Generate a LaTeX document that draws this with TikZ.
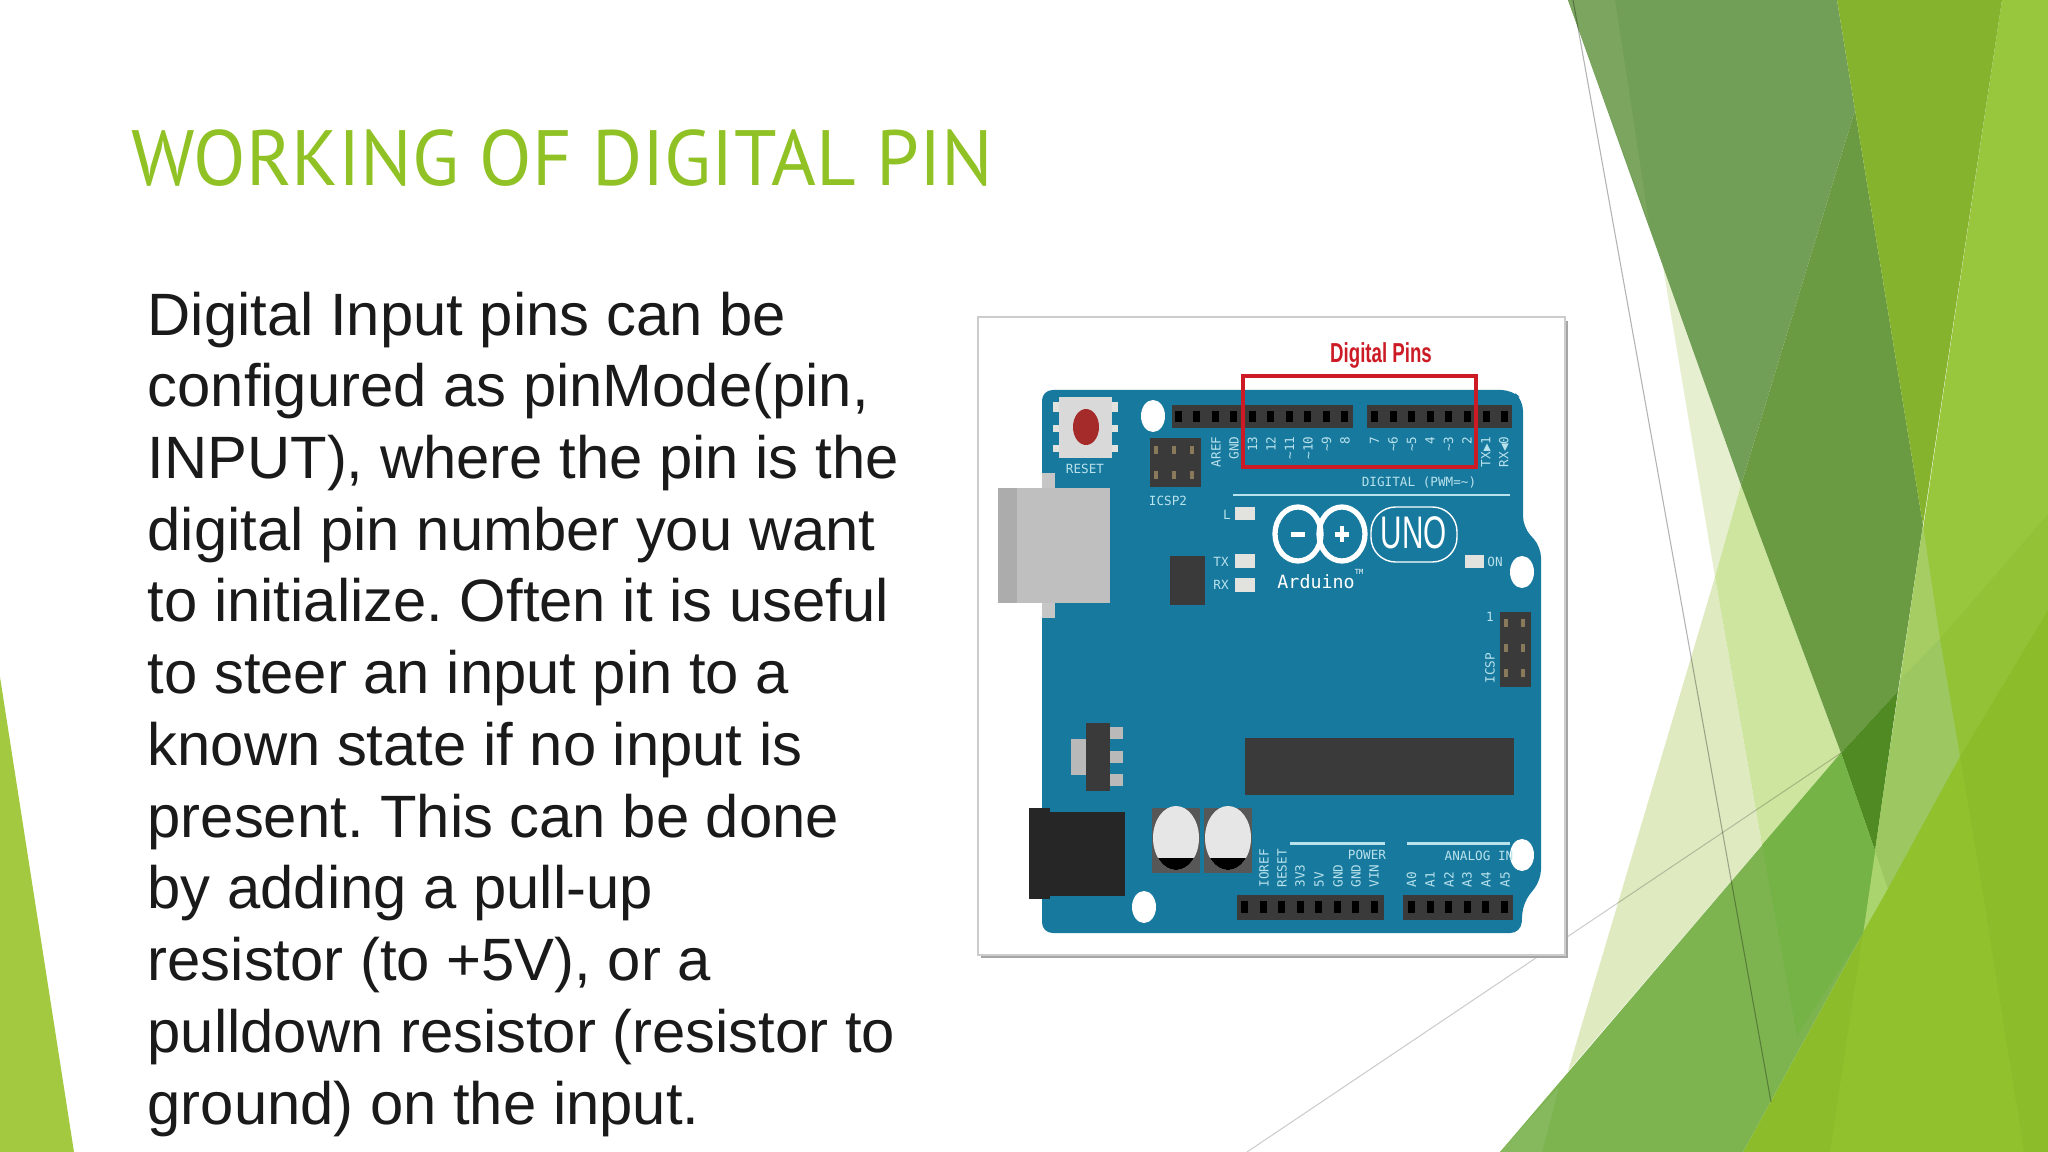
\documentclass[tikz,border=0pt]{standalone}
\usepackage{fontspec}
\setmainfont{Liberation Sans}
\setmonofont{DejaVu Sans Mono}
\newfontfamily\titlefont{PT Sans}
\definecolor{facetgreen}{HTML}{90C226}
\definecolor{facetleft}{HTML}{A2C93F}
\definecolor{paleone}{HTML}{E6EFD0}
\definecolor{paletwo}{HTML}{DFEAC1}
\definecolor{palethree}{HTML}{CEE5A0}
\definecolor{olivetop}{HTML}{729F57}
\definecolor{olivesliver}{HTML}{7CA660}
\definecolor{olivemid}{HTML}{6A9A42}
\definecolor{darkwedge}{HTML}{4F8A22}
\definecolor{midtop}{HTML}{85B32E}
\definecolor{brightright}{HTML}{98C63D}
\definecolor{brightlow}{HTML}{93C237}
\definecolor{patchone}{HTML}{A5CD63}
\definecolor{patchtwo}{HTML}{9CC761}
\definecolor{patchthree}{HTML}{AAD46E}
\definecolor{basegreen}{HTML}{8DBC2A}
\definecolor{basebright}{HTML}{91C22E}
\definecolor{lowgreen}{HTML}{7DB450}
\definecolor{lowright}{HTML}{75B347}
\definecolor{lowsliver}{HTML}{86B95E}
\definecolor{inkblack}{HTML}{1A1A1A}
\definecolor{boardblue}{HTML}{17799E}
\definecolor{silkblue}{HTML}{B8E2EC}
\definecolor{chipgray}{HTML}{3A3A3A}
\definecolor{jackblack}{HTML}{262626}
\definecolor{padbrown}{HTML}{8A7A5C}
\definecolor{ledwhite}{HTML}{E2E2DE}
\definecolor{capwhite}{HTML}{E6E6E6}
\definecolor{buttonred}{HTML}{A52A2A}
\definecolor{pinred}{HTML}{CC1B24}
\tikzset{
  hairline/.style={draw=black,line width=0.3pt},
  silk/.style={text=silkblue,inner sep=0pt,font=\fontsize{3.6}{4}\ttfamily},
  silkup/.style={silk,rotate=90},
  chip/.style={fill=chipgray},
  led/.style={fill=ledwhite},
  hole/.style={fill=white},
  pin/.style={fill=black}
}
\begin{document}
\begin{tikzpicture}[x=0.01cm,y=-0.01cm]
  \useasboundingbox (0,0) rectangle (2048,1152);
  \fill[white] (0,0) rectangle (2048,1152);

  \fill[facetleft] (0,677) -- (74,1152) -- (0,1152) -- cycle;

  \fill[brightright] (2002,0) -- (2048,0) -- (2048,1152) -- (1830,1152) -- cycle;
  \fill[paleone] (1662,261) -- (1741,485) -- (1715,577) -- cycle;
  \fill[paletwo] (1568,1071) -- (1715,577) -- (1762,845) -- cycle;
  \fill[palethree] (1715,577) -- (1741,485) -- (1841,753) -- (1762,845) -- cycle;
  \fill[olivetop] (1568,0) -- (1837,0) -- (1855,110) -- (1741,485) -- cycle;
  \fill[olivesliver] (1568,0) -- (1615,0) -- (1649,223) -- cycle;
  \fill[olivemid] (1855,110) -- (1923,525) -- (1898,691) -- (1841,753) -- (1741,485) -- cycle;
  \fill[darkwedge] (1841,753) -- (1898,691) -- (1875,851) -- cycle;
  \fill[midtop] (1837,0) -- (2002,0) -- (1923,525) -- cycle;
  \fill[brightlow] (2048,514) -- (1940,639) -- (1960,757) -- (2048,610) -- cycle;
  \fill[patchone] (1923,525) -- (1940,639) -- (1900,680) -- cycle;
  \fill[patchtwo] (1900,680) -- (1940,639) -- (1960,757) -- (1888,889) -- (1875,851) -- cycle;
  \fill[patchthree] (1875,851) -- (1888,889) -- (1863,933) -- cycle;
  \fill[basegreen] (1743,1152) -- (1863,933) -- (1888,889) -- (1960,757) -- (2048,610) -- (2048,1152) -- cycle;
  \fill[basebright] (1830,1152) -- (1863,933) -- (1888,889) -- (1960,757) -- (1975,845) -- (2024,1152) -- cycle;
  \fill[lowgreen] (1500,1152) -- (1841,753) -- (1875,851) -- (1863,933) -- (1743,1152) -- cycle;
  \fill[lowright] (1762,845) -- (1841,753) -- (1875,851) -- (1863,933) -- (1797,1036) -- cycle;
  \fill[lowsliver] (1500,1152) -- (1559,1087) -- (1542,1152) -- cycle;

  \draw[hairline,opacity=0.3] (1573,0) -- (1771,1102);
  \draw[hairline,opacity=0.2] (1841,753) -- (1247,1152);

  \node[anchor=west,inner sep=0pt,text=facetgreen,xscale=0.978,font=\fontsize{22.3}{26}\titlefont] (title) at (131,158) {WORKING OF DIGITAL PIN};
  \node[anchor=north west,inner sep=0pt,align=left,text=inkblack,font=\fontsize{17}{20.4}\selectfont\frenchspacing] (bodytext) at (147,291) {Digital Input pins can be\\
    configured as pinMode(pin,\\
    INPUT), where the pin is the\\
    digital pin number you want\\
    to initialize. Often it is useful\\
    to steer an input pin to a\\
    known state if no input is\\
    present. This can be done\\
    by adding a pull-up\\
    resistor (to +5V), or a\\
    pulldown resistor (resistor to\\
    ground) on the input.};

  \fill[gray!70] (981,321) rectangle (1568,958);
  \fill[white,draw=gray!40,line width=0.3pt] (978,317) rectangle (1565,955);

  \fill[boardblue,rounded corners=3pt] (1042,390) -- (1512,390) -- (1523,400) -- (1523,527) -- (1541,547) -- (1541,880) -- (1523,903) -- (1521,933) -- (1042,933) -- cycle;

  \fill[gray!45] (1042,473) rectangle (1055,618);
  \fill[gray!50] (998,488) rectangle (1110,603);
  \fill[gray!65] (998,488) rectangle (1017,603);

  \fill[ledwhite] (1053,402) rectangle (1118,412);
  \fill[ledwhite] (1053,425) rectangle (1118,432);
  \fill[ledwhite] (1053,445) rectangle (1118,452);
  \fill[gray!30] (1059,397) rectangle (1112,458);
  \fill[buttonred] (1086,427) circle[x radius=13,y radius=18];
  \node[silk] (resetlabel) at (1085,469) {RESET};

  \fill[hole] (1153,416) circle[x radius=12,y radius=16];
  \fill[hole] (1522,572) circle[x radius=12,y radius=16];
  \fill[hole] (1522,855) circle[x radius=12,y radius=16];
  \fill[hole] (1144,907) circle[x radius=12,y radius=16];

  \fill[chip] (1172,405) rectangle (1353,428);
  \fill[chip] (1367,405) rectangle (1512,428);
  \fill[chip] (1237,895) rectangle (1384,920);
  \fill[chip] (1403,895) rectangle (1513,920);
  \foreach \x in {0,...,9}
    \fill[pin] (1175+18.45*\x,411) rectangle +(7,11);
  \foreach \x in {0,...,7}
    \fill[pin] (1371+18.6*\x,411) rectangle +(7,11);
  \foreach \x in {0,...,7}
    \fill[pin] (1241+18.5*\x,901) rectangle +(7,12);
  \foreach \x in {0,...,5}
    \fill[pin] (1408+18.6*\x,901) rectangle +(7,12);

  \foreach \x/\txt/\nm in {1216/AREF/aref,1234/GND/gnd,1252.5/13/d13,1271/12/d12,1289.5/\textasciitilde11/d11,1308/\textasciitilde10/d10,1326.5/\textasciitilde9/d9,1345/8/d8,1374.5/7/d7,1393/\textasciitilde6/d6,1411.5/\textasciitilde5/d5,1430/4/d4,1448.5/\textasciitilde3/d3,1467/2/d2,1486/TX▶1/tx,1504/RX◀0/rx}
    \node[silkup,anchor=east] (lbl\nm) at (\x,436) {\txt};
  \foreach \x/\txt/\nm in {1264/IOREF/ioref,1282/RESET/rst,1300/3V3/vthree,1319/5V/vfive,1338/GND/gnda,1356/GND/gndb,1374/VIN/vin,1411.5/A0/azero,1430/A1/aone,1449/A2/atwo,1467/A3/athree,1486/A4/afour,1505/A5/afive}
    \node[silkup,anchor=west] (lbl\nm) at (\x,888) {\txt};

  \node[silk] (digitallabel) at (1419,483) {DIGITAL (PWM=\textasciitilde)};
  \fill[silkblue] (1233,494) rectangle (1510,496);
  \fill[silkblue] (1290,842) rectangle (1385,844.5);
  \fill[silkblue] (1407,842) rectangle (1510,844.5);
  \node[silk] (powerlabel) at (1367,855) {POWER};
  \node[silk] (analoglabel) at (1479,856) {ANALOG IN};

  \fill[chip] (1150,438) rectangle (1201,487);
  \foreach \x in {1156,1174,1192}
    \foreach \y in {450,475}
      \fill[padbrown] (\x-2,\y-4) rectangle (\x+2,\y+4);
  \node[silk] (icsptwolabel) at (1168,501) {ICSP2};

  \fill[led] (1235,507) rectangle (1255,520);
  \fill[led] (1235,554) rectangle (1255,568);
  \fill[led] (1235,578) rectangle (1255,592);
  \fill[led] (1465,555) rectangle (1484,568);
  \node[silk] (ledl) at (1227,515) {L};
  \node[silk] (ledtx) at (1221,562) {TX};
  \node[silk] (ledrx) at (1221,585) {RX};
  \node[silk] (ledon) at (1495,562) {ON};

  \fill[chip] (1170,556) rectangle (1205,605);

  \draw[white,line width=1.5pt] (1298,534) circle[x radius=23,y radius=27];
  \draw[white,line width=1.5pt] (1342,534) circle[x radius=23,y radius=27];
  \fill[white] (1291,532) rectangle (1305,537);
  \fill[white] (1335,532) rectangle (1349,537);
  \fill[white] (1340,526) rectangle (1344,542);
  \draw[white,line width=0.4pt,rounded corners=7pt] (1371,507) rectangle (1457,562);
  \node[inner sep=0pt,text=white,xscale=0.65,font=\fontsize{13}{13}\selectfont] (unolabel) at (1414,533) {UNO};
  \node[silk,text=white,font=\fontsize{5.2}{6}\ttfamily] (arduinolabel) at (1316,582) {Arduino};
  \node[silk,text=white,font=\fontsize{2}{2}\ttfamily] (tmlabel) at (1359,572) {TM};

  \fill[chip] (1500,612) rectangle (1531,687);
  \foreach \y in {623,648,673} {
    \fill[padbrown] (1504,\y-4) rectangle (1508,\y+4);
    \fill[padbrown] (1521,\y-4) rectangle (1525,\y+4);
  }
  \node[silkup] (icsplabel) at (1490,668) {ICSP};
  \node[silk] (icspone) at (1490,617) {1};

  \fill[chip] (1245,738) rectangle (1514,795);

  \fill[gray!55] (1071,739) rectangle (1087,775);
  \fill[gray!55] (1110,727) rectangle (1123,739);
  \fill[gray!55] (1110,751) rectangle (1123,763);
  \fill[gray!55] (1110,774) rectangle (1123,786);
  \fill[chip] (1086,723) rectangle (1110,791);

  \fill[jackblack] (1029,808) rectangle (1050,899);
  \fill[jackblack] (1050,812) rectangle (1125,896);

  \foreach \x in {1176,1228} {
    \fill[chipgray!85] (\x-24,808) rectangle (\x+24,873);
    \fill[capwhite] (\x,838) circle[x radius=23,y radius=32];
    \begin{scope}
      \clip (\x-24,858) rectangle (\x+24,873);
      \fill[black] (\x,838) circle[x radius=23,y radius=32];
    \end{scope}
  }

  \node[inner sep=0pt,text=pinred,xscale=0.68,font=\fontsize{7.8}{8}\bfseries] (pinslabel) at (1381,355) {Digital Pins};
  \draw[pinred,line width=1.2pt] (1243,376) rectangle (1476,467);
\end{tikzpicture}
\end{document}
